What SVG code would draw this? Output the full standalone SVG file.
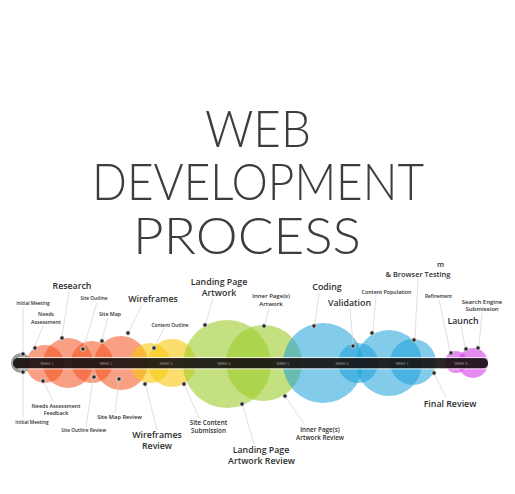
<svg xmlns="http://www.w3.org/2000/svg" width="515" height="494" viewBox="0 0 515 494">
<style>
.title{font-family:"Lato","Liberation Sans",sans-serif;font-weight:300;font-size:52px;fill:#3d3d3d;text-anchor:middle}
.lbl{font-family:"Open Sans","Liberation Sans",sans-serif;font-weight:600;fill:#2e2e2e;text-anchor:middle}
.big{font-size:8.8px}
.mid{font-size:6.3px}
.sm{font-size:4.8px}
.wk{font-family:"Liberation Sans",sans-serif;font-size:3.4px;fill:#9a9a9a;text-anchor:middle}
.or{fill:#f4511e;opacity:.55}
.ye{fill:#f9c80e;opacity:.6}
.gr{fill:#9ccc2c;opacity:.6}
.bl{fill:#1ea0d8;opacity:.55}
.mg{fill:#d63be6;opacity:.6}
.ln{stroke:#d2d2d2;stroke-width:.7;fill:none}
.dot{fill:#2a2a2a;stroke:#e8e8e8;stroke-width:.8}
</style>
<rect width="515" height="494" fill="#fff"/>
<g id="title">
<text class="title" x="258" y="147" textLength="106" lengthAdjust="spacingAndGlyphs">WEB</text>
<text class="title" x="258" y="200" textLength="332" lengthAdjust="spacingAndGlyphs">DEVELOPMENT</text>
<text class="title" x="247" y="254" textLength="228" lengthAdjust="spacingAndGlyphs">PROCESS</text>
</g>
<g id="phases">
<circle cx="21" cy="363" r="10" fill="#8a8a8a" opacity=".85"/>
<circle class="or" cx="45" cy="364" r="19"/>
<circle class="or" cx="68" cy="363" r="25"/>
<circle class="or" cx="92" cy="362" r="21"/>
<circle class="or" cx="121" cy="363" r="27"/>
<circle class="ye" cx="150" cy="363" r="20"/>
<circle class="ye" cx="172" cy="363" r="24"/>
<circle class="gr" cx="227" cy="364" r="44"/>
<circle class="gr" cx="264" cy="363" r="38"/>
<circle class="bl" cx="323" cy="363" r="40"/>
<circle class="bl" cx="358" cy="363" r="20"/>
<circle class="bl" cx="389" cy="363" r="33"/>
<circle class="bl" cx="413" cy="362" r="23"/>
<circle class="mg" cx="456" cy="362" r="11"/>
<circle class="mg" cx="473" cy="363" r="15"/>
</g>
<g id="timeline">
<rect x="13" y="358" width="475" height="10.5" rx="5" fill="#141010" opacity=".9"/>
<line x1="18" y1="357.6" x2="488" y2="357.6" stroke="#fff" stroke-width=".8"/>
<line x1="18" y1="368.9" x2="488" y2="368.9" stroke="#fff" stroke-width=".8"/>
<text class="wk" x="47" y="364.5">WEEK 1</text>
<text class="wk" x="106" y="364.5">WEEK 2</text>
<text class="wk" x="166" y="364.5">WEEK 3</text>
<text class="wk" x="224" y="364.5">WEEK 4</text>
<text class="wk" x="283" y="364.5">WEEK 5</text>
<text class="wk" x="342" y="364.5">WEEK 6</text>
<text class="wk" x="402" y="364.5">WEEK 7</text>
<text class="wk" x="461" y="364.5">WEEK 8</text>
</g>
<g id="connectors">
<line class="ln" x1="23" y1="352" x2="23" y2="307"/>
<line class="ln" x1="35" y1="346" x2="43" y2="326"/>
<line class="ln" x1="62" y1="336" x2="69" y2="292"/>
<line class="ln" x1="84" y1="347" x2="97" y2="302"/>
<line class="ln" x1="102" y1="339" x2="108" y2="318"/>
<line class="ln" x1="129" y1="331" x2="142" y2="305"/>
<line class="ln" x1="155" y1="346" x2="164" y2="328"/>
<line class="ln" x1="206" y1="323" x2="213" y2="298"/>
<line class="ln" x1="265" y1="324" x2="269" y2="308"/>
<line class="ln" x1="315" y1="324" x2="319" y2="293"/>
<line class="ln" x1="353" y1="344" x2="350" y2="308"/>
<line class="ln" x1="373" y1="331" x2="376" y2="295"/>
<line class="ln" x1="415" y1="338" x2="418" y2="278"/>
<line class="ln" x1="450" y1="351" x2="439" y2="300"/>
<line class="ln" x1="465" y1="347" x2="461" y2="325"/>
<line class="ln" x1="479" y1="346" x2="482" y2="313"/>
<line class="ln" x1="23" y1="374" x2="23" y2="417"/>
<line class="ln" x1="44" y1="383" x2="53" y2="401"/>
<line class="ln" x1="93" y1="379" x2="86" y2="427"/>
<line class="ln" x1="119" y1="381" x2="115" y2="413"/>
<line class="ln" x1="146" y1="386" x2="157" y2="430"/>
<line class="ln" x1="185" y1="386" x2="199" y2="418"/>
<line class="ln" x1="243" y1="406" x2="254" y2="444"/>
<line class="ln" x1="286" y1="398" x2="305" y2="425"/>
<line class="ln" x1="435" y1="375" x2="446" y2="397"/>
</g>
<g id="initial-meeting">
<circle class="dot" cx="23" cy="354" r="2.2"/>
<circle class="dot" cx="23" cy="372" r="2.2"/>
<text class="lbl sm" x="33" y="304.6">Initial Meeting</text>
<text class="lbl sm" x="32" y="423.7">Initial Meeting</text>
</g>
<g id="needs-assessment">
<circle class="dot" cx="35" cy="348" r="2.2"/>
<text class="lbl" font-size="5.2" x="46" y="316.3">Needs</text>
<text class="lbl" font-size="5.2" x="46" y="323.9">Assessment</text>
</g>
<g id="research">
<circle class="dot" cx="62" cy="338" r="2.2"/>
<text class="lbl big" x="72" y="289.3">Research</text>
</g>
<g id="site-outline">
<circle class="dot" cx="83" cy="349" r="2.2"/>
<text class="lbl sm" x="94" y="299.7">Site Outline</text>
</g>
<g id="site-map">
<circle class="dot" cx="102" cy="341" r="2.2"/>
<text class="lbl" font-size="5.3" x="110" y="316">Site Map</text>
</g>
<g id="wireframes">
<circle class="dot" cx="128" cy="333" r="2.2"/>
<text class="lbl big" x="153" y="302">Wireframes</text>
</g>
<g id="content-outline">
<circle class="dot" cx="154" cy="348" r="2.2"/>
<text class="lbl sm" x="170" y="326.6">Content Outline</text>
</g>
<g id="landing-page-artwork">
<circle class="dot" cx="205" cy="325" r="2.2"/>
<text class="lbl big" x="219" y="285.2">Landing Page</text>
<text class="lbl big" x="219" y="296.2">Artwork</text>
</g>
<g id="inner-pages-artwork">
<circle class="dot" cx="264" cy="326" r="2.2"/>
<text class="lbl" font-size="6" x="271" y="298">Inner Page(s)</text>
<text class="lbl" font-size="6" x="271" y="305.9">Artwork</text>
</g>
<g id="coding">
<circle class="dot" cx="314" cy="326" r="2.2"/>
<text class="lbl big" x="327" y="290.3">Coding</text>
</g>
<g id="validation">
<circle class="dot" cx="353" cy="346" r="2.2"/>
<text class="lbl big" x="349.5" y="306.3">Validation</text>
</g>
<g id="content-population">
<circle class="dot" cx="372" cy="333" r="2.2"/>
<text class="lbl" font-size="5.3" x="386.5" y="293.6">Content Population</text>
</g>
<g id="browser-testing">
<circle class="dot" cx="414" cy="340" r="2.2"/>
<text class="lbl" font-size="7.4" x="440.5" y="267.3">m</text>
<text class="lbl" font-size="7.4" x="418" y="276.8">&amp; Browser Testing</text>
</g>
<g id="refinement">
<circle class="dot" cx="451" cy="353" r="2.2"/>
<text class="lbl sm" x="438.5" y="298.4">Refinement</text>
</g>
<g id="launch">
<circle class="dot" cx="466" cy="349" r="2.2"/>
<text class="lbl big" x="463" y="324.2">Launch</text>
</g>
<g id="search-engine-submission">
<circle class="dot" cx="478" cy="348" r="2.2"/>
<text class="lbl" font-size="6" x="482" y="303.6">Search Engine</text>
<text class="lbl" font-size="6" x="482" y="311.3">Submission</text>
</g>
<g id="needs-assessment-feedback">
<circle class="dot" cx="43" cy="381" r="2.2"/>
<text class="lbl" font-size="5.4" x="56" y="407.8">Needs Assessment</text>
<text class="lbl" font-size="5.4" x="56" y="414.9">Feedback</text>
</g>
<g id="site-outline-review">
<circle class="dot" cx="94" cy="377" r="2.2"/>
<text class="lbl sm" x="83.7" y="432.4">Site Outline Review</text>
</g>
<g id="site-map-review">
<circle class="dot" cx="119" cy="379" r="2.2"/>
<text class="lbl" font-size="5.7" x="119.5" y="418.7">Site Map Review</text>
</g>
<g id="wireframes-review">
<circle class="dot" cx="145" cy="384" r="2.2"/>
<text class="lbl big" x="157" y="438.4">Wireframes</text>
<text class="lbl big" x="157" y="449.4">Review</text>
</g>
<g id="site-content-submission">
<circle class="dot" cx="184" cy="384" r="2.2"/>
<text class="lbl mid" x="208.5" y="425">Site Content</text>
<text class="lbl mid" x="208.5" y="433">Submission</text>
</g>
<g id="landing-page-artwork-review">
<circle class="dot" cx="242" cy="404" r="2.2"/>
<text class="lbl big" x="261" y="453">Landing Page</text>
<text class="lbl big" x="261.5" y="464">Artwork Review</text>
</g>
<g id="inner-pages-artwork-review">
<circle class="dot" cx="285" cy="396" r="2.2"/>
<text class="lbl mid" x="320" y="432.2">Inner Page(s)</text>
<text class="lbl mid" x="320" y="440.3">Artwork Review</text>
</g>
<g id="final-review">
<circle class="dot" cx="434" cy="373" r="2.2"/>
<text class="lbl big" x="450" y="407.2">Final Review</text>
</g>
</svg>
